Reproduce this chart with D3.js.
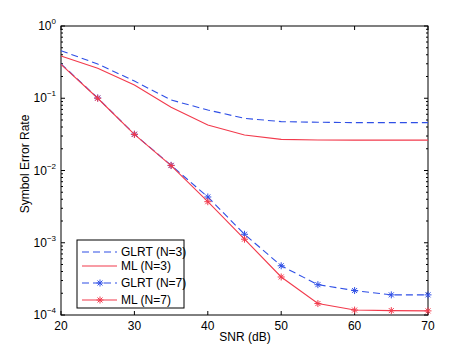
<!DOCTYPE html>
<html><head><meta charset="utf-8">
<script src="https://cdn.jsdelivr.net/npm/d3@7"></script>
<style>body{margin:0;background:#fff}svg{display:block}text{font-family:"Liberation Sans",Arial,sans-serif}</style>
</head><body>
<script>
const snr = [20,25,30,35,40,45,50,55,60,65,70];
const glrt3 = [0.455,0.298,0.173,0.0946,0.0688,0.0527,0.0475,0.0465,0.046,0.046,0.046];
const ml3   = [0.384,0.26,0.153,0.075,0.0426,0.031,0.027,0.0264,0.0263,0.0263,0.0263];
const glrt7 = [0.30,0.101,0.0318,0.0118,0.0043,0.00131,0.00048,0.000263,0.000218,0.00019,0.00019];
const ml7   = [0.295,0.1,0.0316,0.0117,0.0037,0.00112,0.000336,0.000144,0.000117,0.000115,0.000114];
const xTicks = [20,30,40,50,60,70];
const yExps = [0,-1,-2,-3,-4];
const legendLabels = ["GLRT (N=3)","ML (N=3)","GLRT (N=7)","ML (N=7)"];

const W=474,H=355, L=61,R=428,T=26,B=315;
const blue="#2f4fe6", red="#f23a4c";
const svg=d3.select("body").append("svg").attr("width",W).attr("height",H);
const x=d3.scaleLinear().domain([20,70]).range([L,R]);
const y=d3.scaleLog().domain([1e-4,1]).range([B,T]);

svg.append("rect").attr("x",L).attr("y",T).attr("width",R-L).attr("height",B-T)
  .attr("fill","none").attr("stroke","#000").attr("stroke-width",1);

const g=svg.append("g");
xTicks.forEach(v=>{
  g.append("line").attr("x1",x(v)).attr("x2",x(v)).attr("y1",B).attr("y2",B-4).attr("stroke","#000");
  g.append("line").attr("x1",x(v)).attr("x2",x(v)).attr("y1",T).attr("y2",T+4).attr("stroke","#000");
  g.append("text").attr("x",x(v)).attr("y",B+15).attr("text-anchor","middle").attr("font-size",12).text(v);
});
yExps.forEach(e=>{
  const yy=y(Math.pow(10,e));
  g.append("line").attr("x1",L).attr("x2",L+4).attr("y1",yy).attr("y2",yy).attr("stroke","#000");
  g.append("line").attr("x1",R).attr("x2",R-4).attr("y1",yy).attr("y2",yy).attr("stroke","#000");
  const t=g.append("text").attr("x",L-5).attr("y",yy+4).attr("text-anchor","end").attr("font-size",12);
  t.append("tspan").text("10");
  t.append("tspan").attr("dy",-6).attr("font-size",8).text(e===0?"0":"\u2212"+(-e));
  if(e>-4){
    for(let m=2;m<=9;m++){
      const ym=y(m*Math.pow(10,e-1));
      g.append("line").attr("x1",L).attr("x2",L+2).attr("y1",ym).attr("y2",ym).attr("stroke","#000");
      g.append("line").attr("x1",R).attr("x2",R-2).attr("y1",ym).attr("y2",ym).attr("stroke","#000");
    }
  }
});
svg.append("text").attr("x",245).attr("y",341).attr("text-anchor","middle").attr("font-size",12).text("SNR (dB)");
svg.append("text").attr("transform","translate(29,164) rotate(-90)").attr("text-anchor","middle").attr("font-size",12).text("Symbol Error Rate");

const line=d3.line().x((d,i)=>x(snr[i])).y(d=>y(d));
const series=[
  {v:glrt3,c:blue,dash:"7,4",mark:false},
  {v:ml3,c:red,dash:null,mark:false},
  {v:glrt7,c:blue,dash:"7,4",mark:true},
  {v:ml7,c:red,dash:null,mark:true}
];
function star(sel,cx,cy,c){
  const r=3.5,d=2.5;
  [[-r,0,r,0],[0,-r,0,r],[-d,-d,d,d],[-d,d,d,-d]].forEach(s=>{
    sel.append("line").attr("x1",cx+s[0]).attr("y1",cy+s[1]).attr("x2",cx+s[2]).attr("y2",cy+s[3]).attr("stroke",c).attr("stroke-width",1);
  });
}
series.forEach(s=>{
  svg.append("path").attr("d",line(s.v)).attr("fill","none").attr("stroke",s.c).attr("stroke-width",1.1)
    .attr("stroke-dasharray",s.dash);
  if(s.mark){
    s.v.forEach((d,i)=>{ if(i>0) star(svg,x(snr[i]),y(d),s.c); });
  }
});

const lg=svg.append("g");
lg.append("rect").attr("x",77).attr("y",240).attr("width",107).attr("height",68).attr("fill","#fff").attr("stroke","#000");
const ly=[252,266,283,300];
series.forEach((s,i)=>{
  lg.append("line").attr("x1",82).attr("x2",117).attr("y1",ly[i]).attr("y2",ly[i]).attr("stroke",s.c).attr("stroke-width",1.1).attr("stroke-dasharray",s.dash?"7,4":null);
  if(s.mark) star(lg,100,ly[i],s.c);
  lg.append("text").attr("x",121).attr("y",ly[i]+4).attr("font-size",12).text(legendLabels[i]);
});
</script>
</body></html>
